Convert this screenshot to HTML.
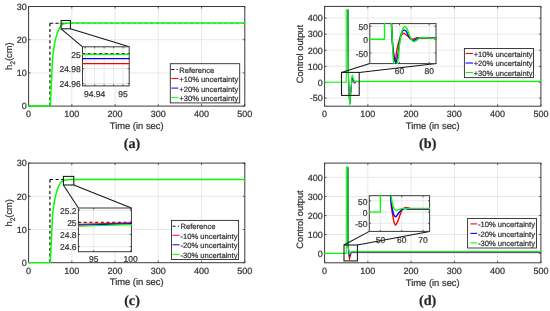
<!DOCTYPE html>
<html><head><meta charset="utf-8"><style>html,body{margin:0;padding:0;background:#fff;}svg{display:block;filter:blur(0.3px);}</style></head>
<body>
<svg width="550" height="311" viewBox="0 0 550 311" font-family="Liberation Sans, Arial, sans-serif" text-rendering="geometricPrecision">
<style>text{stroke:#333;stroke-width:0.22px;paint-order:stroke;}</style>
<rect width="550" height="311" fill="#fff"/>
<line x1="71.84" y1="6.5" x2="71.84" y2="106.1" stroke="#e2e2e2" stroke-width="0.8" />
<line x1="115.08" y1="6.5" x2="115.08" y2="106.1" stroke="#e2e2e2" stroke-width="0.8" />
<line x1="158.32" y1="6.5" x2="158.32" y2="106.1" stroke="#e2e2e2" stroke-width="0.8" />
<line x1="201.56" y1="6.5" x2="201.56" y2="106.1" stroke="#e2e2e2" stroke-width="0.8" />
<line x1="28.6" y1="72.9" x2="244.8" y2="72.9" stroke="#e2e2e2" stroke-width="0.8" />
<line x1="28.6" y1="39.7" x2="244.8" y2="39.7" stroke="#e2e2e2" stroke-width="0.8" />
<line x1="28.6" y1="106.1" x2="28.6" y2="104.1" stroke="#3a3a3a" stroke-width="0.8" />
<line x1="28.6" y1="6.5" x2="28.6" y2="8.5" stroke="#3a3a3a" stroke-width="0.8" />
<text x="28.6" y="117.3" font-size="9.0" text-anchor="middle" fill="#333333" >0</text>
<line x1="71.84" y1="106.1" x2="71.84" y2="104.1" stroke="#3a3a3a" stroke-width="0.8" />
<line x1="71.84" y1="6.5" x2="71.84" y2="8.5" stroke="#3a3a3a" stroke-width="0.8" />
<text x="71.84" y="117.3" font-size="9.0" text-anchor="middle" fill="#333333" >100</text>
<line x1="115.08" y1="106.1" x2="115.08" y2="104.1" stroke="#3a3a3a" stroke-width="0.8" />
<line x1="115.08" y1="6.5" x2="115.08" y2="8.5" stroke="#3a3a3a" stroke-width="0.8" />
<text x="115.08" y="117.3" font-size="9.0" text-anchor="middle" fill="#333333" >200</text>
<line x1="158.32" y1="106.1" x2="158.32" y2="104.1" stroke="#3a3a3a" stroke-width="0.8" />
<line x1="158.32" y1="6.5" x2="158.32" y2="8.5" stroke="#3a3a3a" stroke-width="0.8" />
<text x="158.32" y="117.3" font-size="9.0" text-anchor="middle" fill="#333333" >300</text>
<line x1="201.56" y1="106.1" x2="201.56" y2="104.1" stroke="#3a3a3a" stroke-width="0.8" />
<line x1="201.56" y1="6.5" x2="201.56" y2="8.5" stroke="#3a3a3a" stroke-width="0.8" />
<text x="201.56" y="117.3" font-size="9.0" text-anchor="middle" fill="#333333" >400</text>
<line x1="244.8" y1="106.1" x2="244.8" y2="104.1" stroke="#3a3a3a" stroke-width="0.8" />
<line x1="244.8" y1="6.5" x2="244.8" y2="8.5" stroke="#3a3a3a" stroke-width="0.8" />
<text x="244.8" y="117.3" font-size="9.0" text-anchor="middle" fill="#333333" >500</text>
<line x1="28.6" y1="106.1" x2="30.6" y2="106.1" stroke="#3a3a3a" stroke-width="0.8" />
<line x1="244.8" y1="106.1" x2="242.8" y2="106.1" stroke="#3a3a3a" stroke-width="0.8" />
<text x="26.8" y="109.4" font-size="9.0" text-anchor="end" fill="#333333" >0</text>
<line x1="28.6" y1="72.9" x2="30.6" y2="72.9" stroke="#3a3a3a" stroke-width="0.8" />
<line x1="244.8" y1="72.9" x2="242.8" y2="72.9" stroke="#3a3a3a" stroke-width="0.8" />
<text x="26.8" y="76.2" font-size="9.0" text-anchor="end" fill="#333333" >10</text>
<line x1="28.6" y1="39.7" x2="30.6" y2="39.7" stroke="#3a3a3a" stroke-width="0.8" />
<line x1="244.8" y1="39.7" x2="242.8" y2="39.7" stroke="#3a3a3a" stroke-width="0.8" />
<text x="26.8" y="43" font-size="9.0" text-anchor="end" fill="#333333" >20</text>
<line x1="28.6" y1="6.5" x2="30.6" y2="6.5" stroke="#3a3a3a" stroke-width="0.8" />
<line x1="244.8" y1="6.5" x2="242.8" y2="6.5" stroke="#3a3a3a" stroke-width="0.8" />
<text x="26.8" y="9.8" font-size="9.0" text-anchor="end" fill="#333333" >30</text>
<rect x="28.6" y="6.5" width="216.2" height="99.6" fill="none" stroke="#3a3a3a" stroke-width="1"/>
<clipPath id="ca"><rect x="27.8" y="5.7" width="217.8" height="101.2"/></clipPath>
<g clip-path="url(#ca)">
<polyline points="49.92,23.2 49.92,106.1" fill="none" stroke="#000" stroke-width="1.15" stroke-linejoin="round" stroke-dasharray="3.0 2.7"/>
<polyline points="49.92,23.2 67,23.2" fill="none" stroke="#000" stroke-width="1.15" stroke-linejoin="round" stroke-dasharray="3.0 2.7"/>
<polyline points="27.6,106.1 50.3,106.1" fill="none" stroke="#00ff00" stroke-width="1.5" stroke-linejoin="round" />
<path d="M50.3,106.1 C50.48,102.25 51.03,90.68 51.4,83 C51.77,75.32 52.13,65.5 52.5,60 C52.87,54.5 53.25,52.72 53.6,50 C53.95,47.28 54.25,45.6 54.6,43.7 C54.95,41.8 55.27,40.32 55.7,38.6 C56.13,36.88 56.6,35.12 57.2,33.4 C57.8,31.68 58.58,29.67 59.3,28.3 C60.02,26.93 60.8,25.92 61.5,25.2 C62.2,24.48 62.75,24.31 63.5,24 C64.25,23.69 64.92,23.52 66,23.35 C67.08,23.18 67.67,23.07 70,23 C72.33,22.93 76.67,22.92 80,22.9 C83.33,22.88 88.33,22.9 90,22.9" fill="none" stroke="#00ff00" stroke-width="1.5" stroke-linejoin="round" />
<polyline points="90,22.9 245.8,22.9" fill="none" stroke="#00ff00" stroke-width="1.5" stroke-linejoin="round" />
<line x1="53.22" y1="23.4" x2="244.8" y2="23.4" stroke="#0a7a0a" stroke-width="0.7" stroke-dasharray="3.0 2.7" stroke-opacity="0.4"/>
</g>
<rect x="61.1" y="20.5" width="9.3" height="8.3" fill="none" stroke="#151515" stroke-width="1.05"/>
<line x1="61.1" y1="28.8" x2="82.5" y2="46.8" stroke="#151515" stroke-width="1.05" />
<line x1="70.4" y1="28.8" x2="129.2" y2="46.8" stroke="#151515" stroke-width="1.05" />
<rect x="82.5" y="46.8" width="46.7" height="39.1" fill="#fff"/>
<line x1="85.2" y1="46.8" x2="85.2" y2="85.9" stroke="#e2e2e2" stroke-width="0.8" />
<line x1="94.65" y1="46.8" x2="94.65" y2="85.9" stroke="#e2e2e2" stroke-width="0.8" />
<line x1="104.1" y1="46.8" x2="104.1" y2="85.9" stroke="#e2e2e2" stroke-width="0.8" />
<line x1="113.55" y1="46.8" x2="113.55" y2="85.9" stroke="#e2e2e2" stroke-width="0.8" />
<line x1="123" y1="46.8" x2="123" y2="85.9" stroke="#e2e2e2" stroke-width="0.8" />
<line x1="82.5" y1="53.7" x2="129.2" y2="53.7" stroke="#e2e2e2" stroke-width="0.8" />
<line x1="82.5" y1="68.6" x2="129.2" y2="68.6" stroke="#e2e2e2" stroke-width="0.8" />
<line x1="82.5" y1="83.6" x2="129.2" y2="83.6" stroke="#e2e2e2" stroke-width="0.8" />
<line x1="85.2" y1="85.9" x2="85.2" y2="84.3" stroke="#3a3a3a" stroke-width="0.8" />
<line x1="85.2" y1="46.8" x2="85.2" y2="48.4" stroke="#3a3a3a" stroke-width="0.8" />
<line x1="94.65" y1="85.9" x2="94.65" y2="84.3" stroke="#3a3a3a" stroke-width="0.8" />
<line x1="94.65" y1="46.8" x2="94.65" y2="48.4" stroke="#3a3a3a" stroke-width="0.8" />
<text x="94.65" y="96.6" font-size="8.5" text-anchor="middle" fill="#333333" >94.94</text>
<line x1="104.1" y1="85.9" x2="104.1" y2="84.3" stroke="#3a3a3a" stroke-width="0.8" />
<line x1="104.1" y1="46.8" x2="104.1" y2="48.4" stroke="#3a3a3a" stroke-width="0.8" />
<line x1="113.55" y1="85.9" x2="113.55" y2="84.3" stroke="#3a3a3a" stroke-width="0.8" />
<line x1="113.55" y1="46.8" x2="113.55" y2="48.4" stroke="#3a3a3a" stroke-width="0.8" />
<line x1="123" y1="85.9" x2="123" y2="84.3" stroke="#3a3a3a" stroke-width="0.8" />
<line x1="123" y1="46.8" x2="123" y2="48.4" stroke="#3a3a3a" stroke-width="0.8" />
<text x="123" y="96.6" font-size="8.5" text-anchor="middle" fill="#333333" >95</text>
<line x1="82.5" y1="53.7" x2="84.1" y2="53.7" stroke="#3a3a3a" stroke-width="0.8" />
<line x1="129.2" y1="53.7" x2="127.6" y2="53.7" stroke="#3a3a3a" stroke-width="0.8" />
<text x="80.7" y="57.5" font-size="8.5" text-anchor="end" fill="#333333" >25</text>
<line x1="82.5" y1="68.6" x2="84.1" y2="68.6" stroke="#3a3a3a" stroke-width="0.8" />
<line x1="129.2" y1="68.6" x2="127.6" y2="68.6" stroke="#3a3a3a" stroke-width="0.8" />
<text x="80.7" y="72.4" font-size="8.5" text-anchor="end" fill="#333333" >24.98</text>
<line x1="82.5" y1="83.6" x2="84.1" y2="83.6" stroke="#3a3a3a" stroke-width="0.8" />
<line x1="129.2" y1="83.6" x2="127.6" y2="83.6" stroke="#3a3a3a" stroke-width="0.8" />
<text x="80.7" y="87.4" font-size="8.5" text-anchor="end" fill="#333333" >24.96</text>
<rect x="82.5" y="46.8" width="46.7" height="39.1" fill="none" stroke="#3a3a3a" stroke-width="1"/>
<clipPath id="cia"><rect x="82" y="46.3" width="47.7" height="40.1"/></clipPath>
<g clip-path="url(#cia)">
<polyline points="82,53.6 130,53.6" fill="none" stroke="#111" stroke-width="1.0" stroke-linejoin="round" stroke-dasharray="3.0 2.7"/>
<polyline points="82,63.6 130,63.6" fill="none" stroke="#ff0000" stroke-width="1.25" stroke-linejoin="round" />
<polyline points="82,58.6 130,58.6" fill="none" stroke="#0000ff" stroke-width="1.25" stroke-linejoin="round" />
<polyline points="82,54.3 130,54.3" fill="none" stroke="#00ff00" stroke-width="1.25" stroke-linejoin="round" />
</g>
<rect x="170.3" y="63.7" width="69.4" height="39.2" fill="#fff" stroke="#2a2a2a" stroke-width="0.9"/>
<line x1="171.3" y1="69.5" x2="174.3" y2="69.5" stroke="#111" stroke-width="1.0" />
<line x1="176.6" y1="69.5" x2="177.8" y2="69.5" stroke="#111" stroke-width="1.0" />
<text x="179.3" y="72.5" font-size="7.6" text-anchor="start" fill="#333333" >Reference</text>
<line x1="171.3" y1="78.55" x2="178.3" y2="78.55" stroke="#ff0000" stroke-width="1.0" />
<text x="179.3" y="82.05" font-size="7.6" text-anchor="start" fill="#333333" >+10% uncertainty</text>
<line x1="171.3" y1="88.1" x2="178.3" y2="88.1" stroke="#0000ff" stroke-width="1.0" />
<text x="179.3" y="91.6" font-size="7.6" text-anchor="start" fill="#333333" >+20% uncertainty</text>
<line x1="171.3" y1="97.65" x2="178.3" y2="97.65" stroke="#00ff00" stroke-width="1.0" />
<text x="179.3" y="101.15" font-size="7.6" text-anchor="start" fill="#333333" >+30% uncertainty</text>
<text x="136.7" y="128.8" font-size="9.4" text-anchor="middle" fill="#333333" >Time (in sec)</text>
<text transform="translate(11.6,56.2) rotate(-90)" font-size="9.3" text-anchor="middle" fill="#333333">h<tspan font-size="6.6" dy="3.0">2</tspan><tspan dy="-3.0">(cm)</tspan></text>
<text x="132" y="148" font-size="14.2" font-weight="bold" text-anchor="middle" fill="#262626" stroke="none" font-family="Liberation Serif, serif">(a)</text>
<line x1="71.84" y1="163.1" x2="71.84" y2="262.7" stroke="#e2e2e2" stroke-width="0.8" />
<line x1="115.08" y1="163.1" x2="115.08" y2="262.7" stroke="#e2e2e2" stroke-width="0.8" />
<line x1="158.32" y1="163.1" x2="158.32" y2="262.7" stroke="#e2e2e2" stroke-width="0.8" />
<line x1="201.56" y1="163.1" x2="201.56" y2="262.7" stroke="#e2e2e2" stroke-width="0.8" />
<line x1="28.6" y1="229.5" x2="244.8" y2="229.5" stroke="#e2e2e2" stroke-width="0.8" />
<line x1="28.6" y1="196.3" x2="244.8" y2="196.3" stroke="#e2e2e2" stroke-width="0.8" />
<line x1="28.6" y1="262.7" x2="28.6" y2="260.7" stroke="#3a3a3a" stroke-width="0.8" />
<line x1="28.6" y1="163.1" x2="28.6" y2="165.1" stroke="#3a3a3a" stroke-width="0.8" />
<text x="28.6" y="273.9" font-size="9.0" text-anchor="middle" fill="#333333" >0</text>
<line x1="71.84" y1="262.7" x2="71.84" y2="260.7" stroke="#3a3a3a" stroke-width="0.8" />
<line x1="71.84" y1="163.1" x2="71.84" y2="165.1" stroke="#3a3a3a" stroke-width="0.8" />
<text x="71.84" y="273.9" font-size="9.0" text-anchor="middle" fill="#333333" >100</text>
<line x1="115.08" y1="262.7" x2="115.08" y2="260.7" stroke="#3a3a3a" stroke-width="0.8" />
<line x1="115.08" y1="163.1" x2="115.08" y2="165.1" stroke="#3a3a3a" stroke-width="0.8" />
<text x="115.08" y="273.9" font-size="9.0" text-anchor="middle" fill="#333333" >200</text>
<line x1="158.32" y1="262.7" x2="158.32" y2="260.7" stroke="#3a3a3a" stroke-width="0.8" />
<line x1="158.32" y1="163.1" x2="158.32" y2="165.1" stroke="#3a3a3a" stroke-width="0.8" />
<text x="158.32" y="273.9" font-size="9.0" text-anchor="middle" fill="#333333" >300</text>
<line x1="201.56" y1="262.7" x2="201.56" y2="260.7" stroke="#3a3a3a" stroke-width="0.8" />
<line x1="201.56" y1="163.1" x2="201.56" y2="165.1" stroke="#3a3a3a" stroke-width="0.8" />
<text x="201.56" y="273.9" font-size="9.0" text-anchor="middle" fill="#333333" >400</text>
<line x1="244.8" y1="262.7" x2="244.8" y2="260.7" stroke="#3a3a3a" stroke-width="0.8" />
<line x1="244.8" y1="163.1" x2="244.8" y2="165.1" stroke="#3a3a3a" stroke-width="0.8" />
<text x="244.8" y="273.9" font-size="9.0" text-anchor="middle" fill="#333333" >500</text>
<line x1="28.6" y1="262.7" x2="30.6" y2="262.7" stroke="#3a3a3a" stroke-width="0.8" />
<line x1="244.8" y1="262.7" x2="242.8" y2="262.7" stroke="#3a3a3a" stroke-width="0.8" />
<text x="26.8" y="266" font-size="9.0" text-anchor="end" fill="#333333" >0</text>
<line x1="28.6" y1="229.5" x2="30.6" y2="229.5" stroke="#3a3a3a" stroke-width="0.8" />
<line x1="244.8" y1="229.5" x2="242.8" y2="229.5" stroke="#3a3a3a" stroke-width="0.8" />
<text x="26.8" y="232.8" font-size="9.0" text-anchor="end" fill="#333333" >10</text>
<line x1="28.6" y1="196.3" x2="30.6" y2="196.3" stroke="#3a3a3a" stroke-width="0.8" />
<line x1="244.8" y1="196.3" x2="242.8" y2="196.3" stroke="#3a3a3a" stroke-width="0.8" />
<text x="26.8" y="199.6" font-size="9.0" text-anchor="end" fill="#333333" >20</text>
<line x1="28.6" y1="163.1" x2="30.6" y2="163.1" stroke="#3a3a3a" stroke-width="0.8" />
<line x1="244.8" y1="163.1" x2="242.8" y2="163.1" stroke="#3a3a3a" stroke-width="0.8" />
<text x="26.8" y="166.4" font-size="9.0" text-anchor="end" fill="#333333" >30</text>
<rect x="28.6" y="163.1" width="216.2" height="99.6" fill="none" stroke="#3a3a3a" stroke-width="1"/>
<clipPath id="cc"><rect x="27.8" y="162.3" width="217.8" height="101.2"/></clipPath>
<g clip-path="url(#cc)">
<polyline points="49.92,179.5 49.92,262.7" fill="none" stroke="#000" stroke-width="1.15" stroke-linejoin="round" stroke-dasharray="3.0 2.7"/>
<polyline points="49.92,179.5 67,179.5" fill="none" stroke="#000" stroke-width="1.15" stroke-linejoin="round" stroke-dasharray="3.0 2.7"/>
<polyline points="27.6,262.7 50.3,262.7" fill="none" stroke="#00ff00" stroke-width="1.5" stroke-linejoin="round" />
<path d="M50.3,262.7 C50.48,258.85 51.03,247.28 51.4,239.6 C51.77,231.92 52.13,222.1 52.5,216.6 C52.87,211.1 53.25,209.32 53.6,206.6 C53.95,203.88 54.25,202.2 54.6,200.3 C54.95,198.4 55.27,196.92 55.7,195.2 C56.13,193.48 56.6,191.72 57.2,190 C57.8,188.28 58.58,186.27 59.3,184.9 C60.02,183.53 60.8,182.52 61.5,181.8 C62.2,181.08 62.75,180.91 63.5,180.6 C64.25,180.29 64.92,180.12 66,179.95 C67.08,179.78 67.67,179.67 70,179.6 C72.33,179.53 76.67,179.52 80,179.5 C83.33,179.48 88.33,179.5 90,179.5" fill="none" stroke="#00ff00" stroke-width="1.5" stroke-linejoin="round" />
<polyline points="90,179.5 245.8,179.5" fill="none" stroke="#00ff00" stroke-width="1.5" stroke-linejoin="round" />
</g>
<rect x="63.4" y="176.4" width="10.4" height="8.6" fill="none" stroke="#151515" stroke-width="1.05"/>
<line x1="63.4" y1="185" x2="78.4" y2="208" stroke="#151515" stroke-width="1.05" />
<line x1="73.8" y1="185" x2="131.4" y2="208" stroke="#151515" stroke-width="1.05" />
<rect x="78.4" y="208" width="53" height="43.7" fill="#fff"/>
<line x1="93.7" y1="208" x2="93.7" y2="251.7" stroke="#e2e2e2" stroke-width="0.8" />
<line x1="78.4" y1="210.2" x2="131.4" y2="210.2" stroke="#e2e2e2" stroke-width="0.8" />
<line x1="78.4" y1="222.4" x2="131.4" y2="222.4" stroke="#e2e2e2" stroke-width="0.8" />
<line x1="78.4" y1="234.5" x2="131.4" y2="234.5" stroke="#e2e2e2" stroke-width="0.8" />
<line x1="78.4" y1="246.6" x2="131.4" y2="246.6" stroke="#e2e2e2" stroke-width="0.8" />
<line x1="93.7" y1="251.7" x2="93.7" y2="250.1" stroke="#3a3a3a" stroke-width="0.8" />
<line x1="93.7" y1="208" x2="93.7" y2="209.6" stroke="#3a3a3a" stroke-width="0.8" />
<text x="93.7" y="261.7" font-size="8.5" text-anchor="middle" fill="#333333" >95</text>
<line x1="130.6" y1="251.7" x2="130.6" y2="250.1" stroke="#3a3a3a" stroke-width="0.8" />
<line x1="130.6" y1="208" x2="130.6" y2="209.6" stroke="#3a3a3a" stroke-width="0.8" />
<text x="130.6" y="261.7" font-size="8.5" text-anchor="middle" fill="#333333" >100</text>
<line x1="78.4" y1="210.2" x2="80" y2="210.2" stroke="#3a3a3a" stroke-width="0.8" />
<line x1="131.4" y1="210.2" x2="129.8" y2="210.2" stroke="#3a3a3a" stroke-width="0.8" />
<text x="76.6" y="214" font-size="8.5" text-anchor="end" fill="#333333" >25.2</text>
<line x1="78.4" y1="222.4" x2="80" y2="222.4" stroke="#3a3a3a" stroke-width="0.8" />
<line x1="131.4" y1="222.4" x2="129.8" y2="222.4" stroke="#3a3a3a" stroke-width="0.8" />
<text x="76.6" y="226.2" font-size="8.5" text-anchor="end" fill="#333333" >25</text>
<line x1="78.4" y1="234.5" x2="80" y2="234.5" stroke="#3a3a3a" stroke-width="0.8" />
<line x1="131.4" y1="234.5" x2="129.8" y2="234.5" stroke="#3a3a3a" stroke-width="0.8" />
<text x="76.6" y="238.3" font-size="8.5" text-anchor="end" fill="#333333" >24.8</text>
<line x1="78.4" y1="246.6" x2="80" y2="246.6" stroke="#3a3a3a" stroke-width="0.8" />
<line x1="131.4" y1="246.6" x2="129.8" y2="246.6" stroke="#3a3a3a" stroke-width="0.8" />
<text x="76.6" y="250.4" font-size="8.5" text-anchor="end" fill="#333333" >24.6</text>
<rect x="78.4" y="208" width="53" height="43.7" fill="none" stroke="#3a3a3a" stroke-width="1"/>
<clipPath id="cic"><rect x="77.9" y="207.5" width="54" height="44.7"/></clipPath>
<g clip-path="url(#cic)">
<polyline points="78,222.3 132,222.3" fill="none" stroke="#111" stroke-width="1.0" stroke-linejoin="round" stroke-dasharray="3.0 2.7"/>
<polyline points="78,224.4 132,222.9" fill="none" stroke="#ff0000" stroke-width="1.15" stroke-linejoin="round" />
<polyline points="78,225.2 132,223.6" fill="none" stroke="#0000ff" stroke-width="1.15" stroke-linejoin="round" />
<polyline points="78,226.2 132,224.6" fill="none" stroke="#00ff00" stroke-width="1.15" stroke-linejoin="round" />
</g>
<rect x="171.5" y="220.4" width="67.1" height="39.1" fill="#fff" stroke="#2a2a2a" stroke-width="0.9"/>
<line x1="172.5" y1="226.2" x2="175.5" y2="226.2" stroke="#111" stroke-width="1.0" />
<line x1="177.8" y1="226.2" x2="179" y2="226.2" stroke="#111" stroke-width="1.0" />
<text x="180.5" y="229.2" font-size="7.6" text-anchor="start" fill="#333333" >Reference</text>
<line x1="172.5" y1="235.25" x2="179.5" y2="235.25" stroke="#ff0000" stroke-width="1.0" />
<text x="180.5" y="238.75" font-size="7.6" text-anchor="start" fill="#333333" >-10% uncertainty</text>
<line x1="172.5" y1="244.8" x2="179.5" y2="244.8" stroke="#0000ff" stroke-width="1.0" />
<text x="180.5" y="248.3" font-size="7.6" text-anchor="start" fill="#333333" >-20% uncertainty</text>
<line x1="172.5" y1="254.35" x2="179.5" y2="254.35" stroke="#00ff00" stroke-width="1.0" />
<text x="180.5" y="257.85" font-size="7.6" text-anchor="start" fill="#333333" >-30% uncertainty</text>
<text x="136.7" y="285.4" font-size="9.4" text-anchor="middle" fill="#333333" >Time (in sec)</text>
<text transform="translate(11.6,212.8) rotate(-90)" font-size="9.3" text-anchor="middle" fill="#333333">h<tspan font-size="6.6" dy="3.0">2</tspan><tspan dy="-3.0">(cm)</tspan></text>
<text x="132" y="304.6" font-size="14.2" font-weight="bold" text-anchor="middle" fill="#262626" stroke="none" font-family="Liberation Serif, serif">(c)</text>
<line x1="367.86" y1="6.4" x2="367.86" y2="106.2" stroke="#e2e2e2" stroke-width="0.8" />
<line x1="411.12" y1="6.4" x2="411.12" y2="106.2" stroke="#e2e2e2" stroke-width="0.8" />
<line x1="454.38" y1="6.4" x2="454.38" y2="106.2" stroke="#e2e2e2" stroke-width="0.8" />
<line x1="497.64" y1="6.4" x2="497.64" y2="106.2" stroke="#e2e2e2" stroke-width="0.8" />
<line x1="324.6" y1="18.05" x2="540.9" y2="18.05" stroke="#e2e2e2" stroke-width="0.8" />
<line x1="324.6" y1="34.1" x2="540.9" y2="34.1" stroke="#e2e2e2" stroke-width="0.8" />
<line x1="324.6" y1="50.2" x2="540.9" y2="50.2" stroke="#e2e2e2" stroke-width="0.8" />
<line x1="324.6" y1="66.3" x2="540.9" y2="66.3" stroke="#e2e2e2" stroke-width="0.8" />
<line x1="324.6" y1="82.3" x2="540.9" y2="82.3" stroke="#e2e2e2" stroke-width="0.8" />
<line x1="324.6" y1="98" x2="540.9" y2="98" stroke="#e2e2e2" stroke-width="0.8" />
<line x1="324.6" y1="106.2" x2="324.6" y2="104.2" stroke="#3a3a3a" stroke-width="0.8" />
<line x1="324.6" y1="6.4" x2="324.6" y2="8.4" stroke="#3a3a3a" stroke-width="0.8" />
<text x="324.6" y="117.4" font-size="9.0" text-anchor="middle" fill="#333333" >0</text>
<line x1="367.86" y1="106.2" x2="367.86" y2="104.2" stroke="#3a3a3a" stroke-width="0.8" />
<line x1="367.86" y1="6.4" x2="367.86" y2="8.4" stroke="#3a3a3a" stroke-width="0.8" />
<text x="367.86" y="117.4" font-size="9.0" text-anchor="middle" fill="#333333" >100</text>
<line x1="411.12" y1="106.2" x2="411.12" y2="104.2" stroke="#3a3a3a" stroke-width="0.8" />
<line x1="411.12" y1="6.4" x2="411.12" y2="8.4" stroke="#3a3a3a" stroke-width="0.8" />
<text x="411.12" y="117.4" font-size="9.0" text-anchor="middle" fill="#333333" >200</text>
<line x1="454.38" y1="106.2" x2="454.38" y2="104.2" stroke="#3a3a3a" stroke-width="0.8" />
<line x1="454.38" y1="6.4" x2="454.38" y2="8.4" stroke="#3a3a3a" stroke-width="0.8" />
<text x="454.38" y="117.4" font-size="9.0" text-anchor="middle" fill="#333333" >300</text>
<line x1="497.64" y1="106.2" x2="497.64" y2="104.2" stroke="#3a3a3a" stroke-width="0.8" />
<line x1="497.64" y1="6.4" x2="497.64" y2="8.4" stroke="#3a3a3a" stroke-width="0.8" />
<text x="497.64" y="117.4" font-size="9.0" text-anchor="middle" fill="#333333" >400</text>
<line x1="540.9" y1="106.2" x2="540.9" y2="104.2" stroke="#3a3a3a" stroke-width="0.8" />
<line x1="540.9" y1="6.4" x2="540.9" y2="8.4" stroke="#3a3a3a" stroke-width="0.8" />
<text x="540.9" y="117.4" font-size="9.0" text-anchor="middle" fill="#333333" >500</text>
<line x1="324.6" y1="18.05" x2="326.6" y2="18.05" stroke="#3a3a3a" stroke-width="0.8" />
<line x1="540.9" y1="18.05" x2="538.9" y2="18.05" stroke="#3a3a3a" stroke-width="0.8" />
<text x="322.8" y="21.35" font-size="9.0" text-anchor="end" fill="#333333" >400</text>
<line x1="324.6" y1="34.1" x2="326.6" y2="34.1" stroke="#3a3a3a" stroke-width="0.8" />
<line x1="540.9" y1="34.1" x2="538.9" y2="34.1" stroke="#3a3a3a" stroke-width="0.8" />
<text x="322.8" y="37.4" font-size="9.0" text-anchor="end" fill="#333333" >300</text>
<line x1="324.6" y1="50.2" x2="326.6" y2="50.2" stroke="#3a3a3a" stroke-width="0.8" />
<line x1="540.9" y1="50.2" x2="538.9" y2="50.2" stroke="#3a3a3a" stroke-width="0.8" />
<text x="322.8" y="53.5" font-size="9.0" text-anchor="end" fill="#333333" >200</text>
<line x1="324.6" y1="66.3" x2="326.6" y2="66.3" stroke="#3a3a3a" stroke-width="0.8" />
<line x1="540.9" y1="66.3" x2="538.9" y2="66.3" stroke="#3a3a3a" stroke-width="0.8" />
<text x="322.8" y="69.6" font-size="9.0" text-anchor="end" fill="#333333" >100</text>
<line x1="324.6" y1="82.3" x2="326.6" y2="82.3" stroke="#3a3a3a" stroke-width="0.8" />
<line x1="540.9" y1="82.3" x2="538.9" y2="82.3" stroke="#3a3a3a" stroke-width="0.8" />
<text x="322.8" y="85.6" font-size="9.0" text-anchor="end" fill="#333333" >0</text>
<line x1="324.6" y1="98" x2="326.6" y2="98" stroke="#3a3a3a" stroke-width="0.8" />
<line x1="540.9" y1="98" x2="538.9" y2="98" stroke="#3a3a3a" stroke-width="0.8" />
<text x="322.8" y="101.3" font-size="9.0" text-anchor="end" fill="#333333" >-50</text>
<rect x="324.6" y="6.4" width="216.3" height="99.8" fill="none" stroke="#3a3a3a" stroke-width="1"/>
<clipPath id="cb"><rect x="323.8" y="5.6" width="217.9" height="101.4"/></clipPath>
<g clip-path="url(#cb)">
<polyline points="348,9.8 348.3,70 348.9,90 349.7,103.5 352.1,78 354.6,83 356.1,81.5 357.5,81.5 541,81.5" fill="none" stroke="#ff0000" stroke-width="1.1" stroke-linejoin="round" />
<polyline points="348,9.8 348.3,70 348.9,90 349.7,104 352.2,76.8 354.5,82.8 356,81.3 357.5,81.5 541,81.5" fill="none" stroke="#0000ff" stroke-width="1.1" stroke-linejoin="round" />
<polyline points="324,82.2 346.2,82.2 346.2,9.8 348,9.8 348.3,70 348.9,90 349.7,104.5 352.2,74.8 354.5,82.2 355.9,81.1 357.5,81.4 541,81.4" fill="none" stroke="#00ff00" stroke-width="1.1" stroke-linejoin="round" />
</g>
<rect x="341.5" y="72.4" width="17.7" height="23" fill="none" stroke="#151515" stroke-width="1.05"/>
<line x1="341.5" y1="72.4" x2="369.8" y2="63.6" stroke="#151515" stroke-width="1.05" />
<line x1="359.2" y1="72.4" x2="436.3" y2="63.6" stroke="#151515" stroke-width="1.05" />
<rect x="369.8" y="23.6" width="66.2" height="40" fill="#fff"/>
<line x1="399.5" y1="23.6" x2="399.5" y2="63.6" stroke="#e2e2e2" stroke-width="0.8" />
<line x1="429.2" y1="23.6" x2="429.2" y2="63.6" stroke="#e2e2e2" stroke-width="0.8" />
<line x1="369.8" y1="26.3" x2="436" y2="26.3" stroke="#e2e2e2" stroke-width="0.8" />
<line x1="369.8" y1="39.6" x2="436" y2="39.6" stroke="#e2e2e2" stroke-width="0.8" />
<line x1="369.8" y1="52.9" x2="436" y2="52.9" stroke="#e2e2e2" stroke-width="0.8" />
<line x1="399.5" y1="63.6" x2="399.5" y2="62" stroke="#3a3a3a" stroke-width="0.8" />
<line x1="399.5" y1="23.6" x2="399.5" y2="25.2" stroke="#3a3a3a" stroke-width="0.8" />
<text x="399.5" y="73.6" font-size="8.5" text-anchor="middle" fill="#333333" >60</text>
<line x1="429.2" y1="63.6" x2="429.2" y2="62" stroke="#3a3a3a" stroke-width="0.8" />
<line x1="429.2" y1="23.6" x2="429.2" y2="25.2" stroke="#3a3a3a" stroke-width="0.8" />
<text x="429.2" y="73.6" font-size="8.5" text-anchor="middle" fill="#333333" >80</text>
<line x1="369.8" y1="26.3" x2="371.4" y2="26.3" stroke="#3a3a3a" stroke-width="0.8" />
<line x1="436" y1="26.3" x2="434.4" y2="26.3" stroke="#3a3a3a" stroke-width="0.8" />
<text x="368" y="30.1" font-size="8.5" text-anchor="end" fill="#333333" >50</text>
<line x1="369.8" y1="39.6" x2="371.4" y2="39.6" stroke="#3a3a3a" stroke-width="0.8" />
<line x1="436" y1="39.6" x2="434.4" y2="39.6" stroke="#3a3a3a" stroke-width="0.8" />
<text x="368" y="43.4" font-size="8.5" text-anchor="end" fill="#333333" >0</text>
<line x1="369.8" y1="52.9" x2="371.4" y2="52.9" stroke="#3a3a3a" stroke-width="0.8" />
<line x1="436" y1="52.9" x2="434.4" y2="52.9" stroke="#3a3a3a" stroke-width="0.8" />
<text x="368" y="56.7" font-size="8.5" text-anchor="end" fill="#333333" >-50</text>
<rect x="369.8" y="23.6" width="66.2" height="40" fill="none" stroke="#3a3a3a" stroke-width="1"/>
<clipPath id="cib"><rect x="369.3" y="23.1" width="67.2" height="41"/></clipPath>
<g clip-path="url(#cib)">
<path d="M391.3,18 C391.3,18.33 391.12,16 391.3,20 C391.48,24 392.03,36.5 392.4,42 C392.77,47.5 393.2,50.25 393.5,53 C393.8,55.75 393.97,57.18 394.2,58.5 C394.43,59.82 394.65,60.9 394.9,60.9 C395.15,60.9 395.42,60.03 395.7,58.5 C395.98,56.97 396.22,53.95 396.6,51.7 C396.98,49.45 397.53,47 398,45 C398.47,43 398.87,41.28 399.4,39.7 C399.93,38.12 400.6,36.52 401.2,35.5 C401.8,34.48 402.53,33.97 403,33.6 C403.47,33.23 403.58,33.18 404,33.3 C404.42,33.42 404.75,33.7 405.5,34.3 C406.25,34.9 407.62,36.18 408.5,36.9 C409.38,37.62 410.07,38.23 410.8,38.6 C411.53,38.97 412.23,39.1 412.9,39.1 C413.57,39.1 414.25,38.8 414.8,38.6 C415.35,38.4 415.5,38.03 416.2,37.9 C416.9,37.77 415.53,37.8 419,37.8 C422.47,37.8 434,37.88 437,37.9" fill="none" stroke="#ff0000" stroke-width="1.4" stroke-linejoin="round" />
<path d="M391.3,18 C391.3,18.33 391.12,16 391.3,20 C391.48,24 392.02,36.33 392.4,42 C392.78,47.67 393.18,50.92 393.6,54 C394.02,57.08 394.47,59.12 394.9,60.5 C395.33,61.88 395.8,62.72 396.2,62.3 C396.6,61.88 396.85,60.38 397.3,58 C397.75,55.62 398.48,51 398.9,48 C399.32,45 399.45,42.25 399.8,40 C400.15,37.75 400.55,35.97 401,34.5 C401.45,33.03 401.93,31.93 402.5,31.2 C403.07,30.47 403.77,30.08 404.4,30.1 C405.03,30.12 405.62,30.33 406.3,31.3 C406.98,32.27 407.72,34.58 408.5,35.9 C409.28,37.22 410.12,38.47 411,39.2 C411.88,39.93 412.92,40.27 413.8,40.3 C414.68,40.33 415.42,39.8 416.3,39.4 C417.18,39 418.15,38.15 419.1,37.9 C420.05,37.65 419.02,37.9 422,37.9 C424.98,37.9 434.5,37.9 437,37.9" fill="none" stroke="#0000ff" stroke-width="1.4" stroke-linejoin="round" />
<polyline points="418,37.9 437,37.9" fill="none" stroke="#b000c0" stroke-width="1.0" stroke-linejoin="round" />
<polyline points="369,39.3 384.5,39.3 384.5,20" fill="none" stroke="#00ff00" stroke-width="1.4" stroke-linejoin="round" />
<path d="M391.3,18 C391.3,18.33 391.12,16 391.3,20 C391.48,24 392.05,35.33 392.4,42 C392.75,48.67 392.85,55.67 393.4,60 C393.95,64.33 394.93,68 395.7,68 C396.47,68 397.42,63.33 398,60 C398.58,56.67 398.85,51.27 399.2,48 C399.55,44.73 399.73,42.82 400.1,40.4 C400.47,37.98 400.97,35.4 401.4,33.5 C401.83,31.6 402.27,30.08 402.7,29 C403.13,27.92 403.6,27.4 404,27 C404.4,26.6 404.72,26.5 405.1,26.6 C405.48,26.7 405.85,26.95 406.3,27.6 C406.75,28.25 407.27,29.2 407.8,30.5 C408.33,31.8 408.88,33.9 409.5,35.4 C410.12,36.9 410.92,38.53 411.5,39.5 C412.08,40.47 412.53,40.83 413,41.2 C413.47,41.57 413.83,41.73 414.3,41.7 C414.77,41.67 415.27,41.37 415.8,41 C416.33,40.63 416.95,39.95 417.5,39.5 C418.05,39.05 418.52,38.62 419.1,38.3 C419.68,37.98 420.35,37.73 421,37.6 C421.65,37.47 422.17,37.47 423,37.5 C423.83,37.53 424.83,37.7 426,37.8 C427.17,37.9 428.17,38.02 430,38.1 C431.83,38.18 435.83,38.27 437,38.3" fill="none" stroke="#00ff00" stroke-width="1.4" stroke-linejoin="round" />
</g>
<rect x="464.4" y="48.5" width="69.1" height="29.1" fill="#fff" stroke="#2a2a2a" stroke-width="0.9"/>
<line x1="465.6" y1="53.5" x2="473" y2="53.5" stroke="#ff0000" stroke-width="1.1" />
<text x="473.7" y="56.7" font-size="7.6" text-anchor="start" fill="#333333" >+10% uncertainty</text>
<line x1="465.6" y1="63" x2="473" y2="63" stroke="#0000ff" stroke-width="1.1" />
<text x="473.7" y="66.2" font-size="7.6" text-anchor="start" fill="#333333" >+20% uncertainty</text>
<line x1="465.6" y1="72.5" x2="473" y2="72.5" stroke="#00ff00" stroke-width="1.1" />
<text x="473.7" y="75.7" font-size="7.6" text-anchor="start" fill="#333333" >+30% uncertainty</text>
<text x="432.75" y="128.8" font-size="9.4" text-anchor="middle" fill="#333333" >Time (in sec)</text>
<text transform="translate(303.0,54.1) rotate(-90)" font-size="9.3" text-anchor="middle" fill="#333333">Control output</text>
<text x="427.7" y="148" font-size="14.2" font-weight="bold" text-anchor="middle" fill="#262626" stroke="none" font-family="Liberation Serif, serif">(b)</text>
<line x1="367.86" y1="163.1" x2="367.86" y2="262.8" stroke="#e2e2e2" stroke-width="0.8" />
<line x1="411.12" y1="163.1" x2="411.12" y2="262.8" stroke="#e2e2e2" stroke-width="0.8" />
<line x1="454.38" y1="163.1" x2="454.38" y2="262.8" stroke="#e2e2e2" stroke-width="0.8" />
<line x1="497.64" y1="163.1" x2="497.64" y2="262.8" stroke="#e2e2e2" stroke-width="0.8" />
<line x1="324.6" y1="177.4" x2="540.9" y2="177.4" stroke="#e2e2e2" stroke-width="0.8" />
<line x1="324.6" y1="196.5" x2="540.9" y2="196.5" stroke="#e2e2e2" stroke-width="0.8" />
<line x1="324.6" y1="215.5" x2="540.9" y2="215.5" stroke="#e2e2e2" stroke-width="0.8" />
<line x1="324.6" y1="234.5" x2="540.9" y2="234.5" stroke="#e2e2e2" stroke-width="0.8" />
<line x1="324.6" y1="253.5" x2="540.9" y2="253.5" stroke="#e2e2e2" stroke-width="0.8" />
<line x1="324.6" y1="262.8" x2="324.6" y2="260.8" stroke="#3a3a3a" stroke-width="0.8" />
<line x1="324.6" y1="163.1" x2="324.6" y2="165.1" stroke="#3a3a3a" stroke-width="0.8" />
<text x="324.6" y="274" font-size="9.0" text-anchor="middle" fill="#333333" >0</text>
<line x1="367.86" y1="262.8" x2="367.86" y2="260.8" stroke="#3a3a3a" stroke-width="0.8" />
<line x1="367.86" y1="163.1" x2="367.86" y2="165.1" stroke="#3a3a3a" stroke-width="0.8" />
<text x="367.86" y="274" font-size="9.0" text-anchor="middle" fill="#333333" >100</text>
<line x1="411.12" y1="262.8" x2="411.12" y2="260.8" stroke="#3a3a3a" stroke-width="0.8" />
<line x1="411.12" y1="163.1" x2="411.12" y2="165.1" stroke="#3a3a3a" stroke-width="0.8" />
<text x="411.12" y="274" font-size="9.0" text-anchor="middle" fill="#333333" >200</text>
<line x1="454.38" y1="262.8" x2="454.38" y2="260.8" stroke="#3a3a3a" stroke-width="0.8" />
<line x1="454.38" y1="163.1" x2="454.38" y2="165.1" stroke="#3a3a3a" stroke-width="0.8" />
<text x="454.38" y="274" font-size="9.0" text-anchor="middle" fill="#333333" >300</text>
<line x1="497.64" y1="262.8" x2="497.64" y2="260.8" stroke="#3a3a3a" stroke-width="0.8" />
<line x1="497.64" y1="163.1" x2="497.64" y2="165.1" stroke="#3a3a3a" stroke-width="0.8" />
<text x="497.64" y="274" font-size="9.0" text-anchor="middle" fill="#333333" >400</text>
<line x1="540.9" y1="262.8" x2="540.9" y2="260.8" stroke="#3a3a3a" stroke-width="0.8" />
<line x1="540.9" y1="163.1" x2="540.9" y2="165.1" stroke="#3a3a3a" stroke-width="0.8" />
<text x="540.9" y="274" font-size="9.0" text-anchor="middle" fill="#333333" >500</text>
<line x1="324.6" y1="177.4" x2="326.6" y2="177.4" stroke="#3a3a3a" stroke-width="0.8" />
<line x1="540.9" y1="177.4" x2="538.9" y2="177.4" stroke="#3a3a3a" stroke-width="0.8" />
<text x="322.8" y="180.7" font-size="9.0" text-anchor="end" fill="#333333" >400</text>
<line x1="324.6" y1="196.5" x2="326.6" y2="196.5" stroke="#3a3a3a" stroke-width="0.8" />
<line x1="540.9" y1="196.5" x2="538.9" y2="196.5" stroke="#3a3a3a" stroke-width="0.8" />
<text x="322.8" y="199.8" font-size="9.0" text-anchor="end" fill="#333333" >300</text>
<line x1="324.6" y1="215.5" x2="326.6" y2="215.5" stroke="#3a3a3a" stroke-width="0.8" />
<line x1="540.9" y1="215.5" x2="538.9" y2="215.5" stroke="#3a3a3a" stroke-width="0.8" />
<text x="322.8" y="218.8" font-size="9.0" text-anchor="end" fill="#333333" >200</text>
<line x1="324.6" y1="234.5" x2="326.6" y2="234.5" stroke="#3a3a3a" stroke-width="0.8" />
<line x1="540.9" y1="234.5" x2="538.9" y2="234.5" stroke="#3a3a3a" stroke-width="0.8" />
<text x="322.8" y="237.8" font-size="9.0" text-anchor="end" fill="#333333" >100</text>
<line x1="324.6" y1="253.5" x2="326.6" y2="253.5" stroke="#3a3a3a" stroke-width="0.8" />
<line x1="540.9" y1="253.5" x2="538.9" y2="253.5" stroke="#3a3a3a" stroke-width="0.8" />
<text x="322.8" y="256.8" font-size="9.0" text-anchor="end" fill="#333333" >0</text>
<rect x="324.6" y="163.1" width="216.3" height="99.7" fill="none" stroke="#3a3a3a" stroke-width="1"/>
<clipPath id="cd"><rect x="323.8" y="162.3" width="217.9" height="101.3"/></clipPath>
<g clip-path="url(#cd)">
<polyline points="347.9,167.1 348.1,246 349.4,259.6 351.2,252.4 352.5,252.1 541,252.1" fill="none" stroke="#ff0000" stroke-width="1.1" stroke-linejoin="round" />
<polyline points="347.9,167.1 348.1,246 349.4,256 351.3,252.1 352.5,252 541,252" fill="none" stroke="#0000ff" stroke-width="1.1" stroke-linejoin="round" />
<polyline points="324,253.4 346.3,253.4 346.3,167.1 347.9,167.1 348.1,246 349.4,254.2 351.3,252 352.5,251.6 541,251.6" fill="none" stroke="#00ff00" stroke-width="1.1" stroke-linejoin="round" />
</g>
<rect x="344" y="245" width="13.4" height="15.9" fill="none" stroke="#151515" stroke-width="1.05"/>
<line x1="344" y1="245" x2="369.3" y2="231.4" stroke="#151515" stroke-width="1.05" />
<line x1="357.4" y1="245" x2="429.6" y2="231.4" stroke="#151515" stroke-width="1.05" />
<rect x="369.3" y="195.7" width="60.3" height="35.7" fill="#fff"/>
<line x1="380.4" y1="195.7" x2="380.4" y2="231.4" stroke="#e2e2e2" stroke-width="0.8" />
<line x1="401.7" y1="195.7" x2="401.7" y2="231.4" stroke="#e2e2e2" stroke-width="0.8" />
<line x1="423" y1="195.7" x2="423" y2="231.4" stroke="#e2e2e2" stroke-width="0.8" />
<line x1="369.3" y1="200.8" x2="429.6" y2="200.8" stroke="#e2e2e2" stroke-width="0.8" />
<line x1="369.3" y1="212.1" x2="429.6" y2="212.1" stroke="#e2e2e2" stroke-width="0.8" />
<line x1="369.3" y1="223.3" x2="429.6" y2="223.3" stroke="#e2e2e2" stroke-width="0.8" />
<line x1="380.4" y1="231.4" x2="380.4" y2="229.8" stroke="#3a3a3a" stroke-width="0.8" />
<line x1="380.4" y1="195.7" x2="380.4" y2="197.3" stroke="#3a3a3a" stroke-width="0.8" />
<text x="380.4" y="242.6" font-size="8.5" text-anchor="middle" fill="#333333" >50</text>
<line x1="401.7" y1="231.4" x2="401.7" y2="229.8" stroke="#3a3a3a" stroke-width="0.8" />
<line x1="401.7" y1="195.7" x2="401.7" y2="197.3" stroke="#3a3a3a" stroke-width="0.8" />
<text x="401.7" y="242.6" font-size="8.5" text-anchor="middle" fill="#333333" >60</text>
<line x1="423" y1="231.4" x2="423" y2="229.8" stroke="#3a3a3a" stroke-width="0.8" />
<line x1="423" y1="195.7" x2="423" y2="197.3" stroke="#3a3a3a" stroke-width="0.8" />
<text x="423" y="242.6" font-size="8.5" text-anchor="middle" fill="#333333" >70</text>
<line x1="369.3" y1="200.8" x2="370.9" y2="200.8" stroke="#3a3a3a" stroke-width="0.8" />
<line x1="429.6" y1="200.8" x2="428" y2="200.8" stroke="#3a3a3a" stroke-width="0.8" />
<text x="367.5" y="204.6" font-size="8.5" text-anchor="end" fill="#333333" >50</text>
<line x1="369.3" y1="212.1" x2="370.9" y2="212.1" stroke="#3a3a3a" stroke-width="0.8" />
<line x1="429.6" y1="212.1" x2="428" y2="212.1" stroke="#3a3a3a" stroke-width="0.8" />
<text x="367.5" y="215.9" font-size="8.5" text-anchor="end" fill="#333333" >0</text>
<line x1="369.3" y1="223.3" x2="370.9" y2="223.3" stroke="#3a3a3a" stroke-width="0.8" />
<line x1="429.6" y1="223.3" x2="428" y2="223.3" stroke="#3a3a3a" stroke-width="0.8" />
<text x="367.5" y="227.1" font-size="8.5" text-anchor="end" fill="#333333" >-50</text>
<rect x="369.3" y="195.7" width="60.3" height="35.7" fill="none" stroke="#3a3a3a" stroke-width="1"/>
<clipPath id="cid"><rect x="368.8" y="195.2" width="61.3" height="36.7"/></clipPath>
<g clip-path="url(#cid)">
<path d="M390.3,190 C390.32,190.5 390.35,192.07 390.4,193 C390.45,193.93 390.42,193.22 390.6,195.6 C390.78,197.98 391.05,203.47 391.5,207.3 C391.95,211.13 392.82,215.98 393.3,218.6 C393.78,221.22 394.03,221.92 394.4,223 C394.77,224.08 395.12,225.02 395.5,225.1 C395.88,225.18 396.27,224.28 396.7,223.5 C397.13,222.72 397.37,222.32 398.1,220.4 C398.83,218.48 400.2,213.98 401.1,212 C402,210.02 402.62,209.25 403.5,208.5 C404.38,207.75 405.32,207.5 406.4,207.5 C407.48,207.5 408.73,208.2 410,208.5 C411.27,208.8 410.67,209.15 414,209.3 C417.33,209.45 427.33,209.38 430,209.4" fill="none" stroke="#ff0000" stroke-width="1.4" stroke-linejoin="round" />
<path d="M390.3,190 C390.32,190.5 390.35,192.07 390.4,193 C390.45,193.93 390.42,193.62 390.6,195.6 C390.78,197.58 391.05,201.97 391.5,204.9 C391.95,207.83 392.83,211.42 393.3,213.2 C393.77,214.98 393.93,215 394.3,215.6 C394.67,216.2 395.1,216.77 395.5,216.8 C395.9,216.83 396.27,216.3 396.7,215.8 C397.13,215.3 397.27,214.82 398.1,213.8 C398.93,212.78 400.52,210.57 401.7,209.7 C402.88,208.83 403.82,208.68 405.2,208.6 C406.58,208.52 405.87,209.07 410,209.2 C414.13,209.33 426.67,209.37 430,209.4" fill="none" stroke="#0000ff" stroke-width="1.4" stroke-linejoin="round" />
<polyline points="409,209.4 430,209.4" fill="none" stroke="#b000c0" stroke-width="1.0" stroke-linejoin="round" />
<polyline points="369,212.1 380.4,212.1 380.4,193" fill="none" stroke="#00ff00" stroke-width="1.4" stroke-linejoin="round" />
<path d="M390.8,190 C390.82,190.5 390.83,192.07 390.9,193 C390.97,193.93 391,194.02 391.2,195.6 C391.4,197.18 391.65,200.38 392.1,202.5 C392.55,204.62 393.3,207.02 393.9,208.3 C394.5,209.58 395.1,209.93 395.7,210.2 C396.3,210.47 396.9,210.05 397.5,209.9 C398.1,209.75 398.4,209.55 399.3,209.3 C400.2,209.05 401.12,208.55 402.9,208.4 C404.68,208.25 405.48,208.4 410,208.4 C414.52,208.4 426.67,208.4 430,208.4" fill="none" stroke="#00ff00" stroke-width="1.4" stroke-linejoin="round" />
</g>
<rect x="467.6" y="218.5" width="68.9" height="29.5" fill="#fff" stroke="#2a2a2a" stroke-width="0.9"/>
<line x1="470.4" y1="223.9" x2="477.1" y2="223.9" stroke="#ff0000" stroke-width="1.1" />
<text x="478" y="227.1" font-size="7.6" text-anchor="start" fill="#333333" >-10% uncertainty</text>
<line x1="470.4" y1="233.4" x2="477.1" y2="233.4" stroke="#0000ff" stroke-width="1.1" />
<text x="478" y="236.6" font-size="7.6" text-anchor="start" fill="#333333" >-20% uncertainty</text>
<line x1="470.4" y1="242.9" x2="477.1" y2="242.9" stroke="#00ff00" stroke-width="1.1" />
<text x="478" y="246.1" font-size="7.6" text-anchor="start" fill="#333333" >-30% uncertainty</text>
<text x="432.75" y="285.5" font-size="9.4" text-anchor="middle" fill="#333333" >Time (in sec)</text>
<text transform="translate(303.0,219.5) rotate(-90)" font-size="9.3" text-anchor="middle" fill="#333333">Control output</text>
<text x="427.6" y="304.7" font-size="14.2" font-weight="bold" text-anchor="middle" fill="#262626" stroke="none" font-family="Liberation Serif, serif">(d)</text>
</svg>
</body></html>
